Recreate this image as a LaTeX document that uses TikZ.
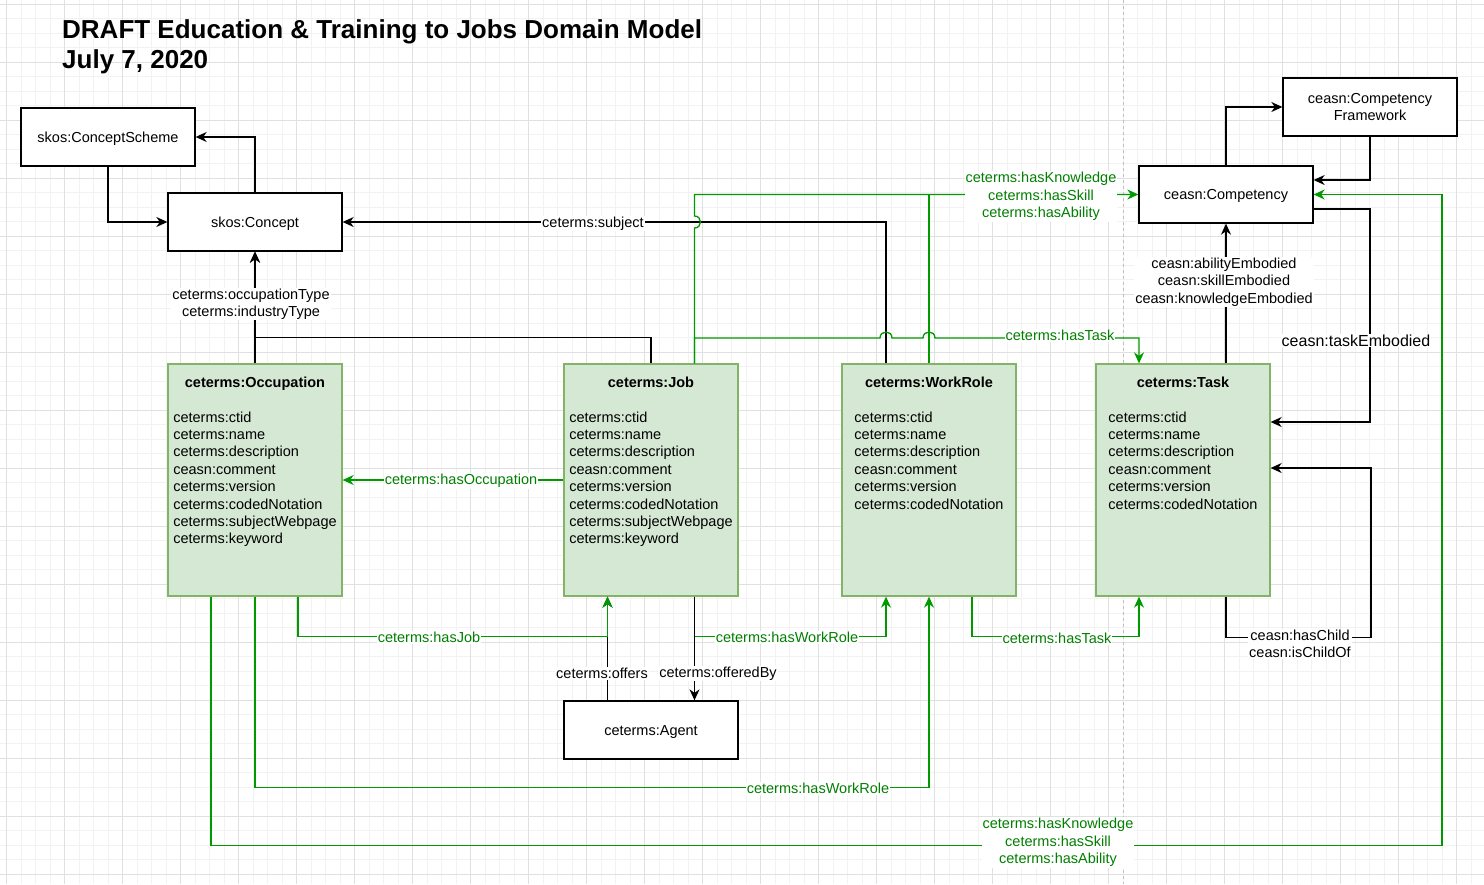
\documentclass[tikz,border=0pt]{standalone}
\usepackage{fontspec}
\setmainfont{Liberation Sans}
\usetikzlibrary{arrows.meta,calc}
\definecolor{gline}{HTML}{009900}
\definecolor{gtext}{HTML}{007F00}
\definecolor{gfill}{HTML}{D5E8D4}
\definecolor{gdraw}{HTML}{82B366}
\definecolor{gridminor}{HTML}{F2F2F2}
\definecolor{gridmajor}{HTML}{E0E0E0}
\definecolor{pagebreak}{HTML}{C0C0C0}
\begin{document}
\begin{tikzpicture}[x=1pt,y=-1pt,
  lbl/.style={font=\fontsize{14.5}{17.4}\selectfont, align=center, fill=white, inner sep=1pt, yshift=-1.5pt},
  glbl/.style={lbl, text=gtext},
  wbox/.style={draw=black, line width=1.3pt, fill=white, minimum width=174pt, minimum height=58pt, inner sep=0pt, font=\fontsize{14.5}{17.4}\selectfont, align=center},
  onebox/.style={wbox, text height=11pt, text depth=1pt},
  cbox/.style={draw=gdraw, line width=1.3pt, fill=gfill, minimum width=174pt, minimum height=232pt, inner sep=0pt},
  ctitle/.style={font=\fontsize{14.5}{17.4}\selectfont\bfseries, inner sep=0pt, text height=11pt, text depth=3pt},
  cattr/.style={font=\fontsize{14.5}{17.4}\selectfont, align=left, anchor=north, inner sep=0pt},
  blk/.style={draw=black, line width=1.3pt},
  grn/.style={draw=gline, line width=1.3pt},
  arr/.style={-{Stealth[length=11pt,width=10pt,inset=3.5pt]}},
  minorline/.style={draw=gridminor, line width=0.8pt},
  majorline/.style={draw=gridmajor, line width=1pt},
]
\useasboundingbox (0,0) rectangle (1484,884);
\fill[white] (0,0) rectangle (1484,884);
% grid
\foreach \i in {0,...,102} { \draw[minorline] ({6.5+14.5*\i},0) -- ({6.5+14.5*\i},884); }
\foreach \j in {0,...,60} { \draw[minorline] (0,{4.3+14.5*\j}) -- (1484,{4.3+14.5*\j}); }
\foreach \i in {0,...,25} { \draw[majorline] ({6.5+58*\i},0) -- ({6.5+58*\i},884); }
\foreach \j in {0,...,15} { \draw[majorline] (0,{4.3+58*\j}) -- (1484,{4.3+58*\j}); }
\draw[pagebreak, line width=0.8pt, dash pattern=on 3pt off 3pt] (1123,0) -- (1123,884);

% title
\node[anchor=north west, align=left, inner sep=0pt, font=\fontsize{26}{29.6}\selectfont\bfseries] (title) at (62,19.5) {DRAFT Education \& Training to Jobs Domain Model\\July 7, 2020};

% white boxes
\node[onebox] (scheme) at (108,137) {skos:ConceptScheme};
\node[onebox] (concept) at (255,222) {skos:Concept};
\node[onebox, minimum height=57pt] (comp) at (1226,194.5) {ceasn:Competency};
\node[wbox] (frame) at (1370,107) {ceasn:Competency\\Framework};
\node[onebox] (agent) at (651,730) {ceterms:Agent};

% class boxes
\node[cbox] (occ) at (255,480) {};
\node[ctitle] (occT) at ($(occ.north)+(0,20.5)$) {ceterms:Occupation};
\node[cattr] (occA) at ($(occ.north)+(0,48)$) {ceterms:ctid\\ceterms:name\\ceterms:description\\ceasn:comment\\ceterms:version\\ceterms:codedNotation\\ceterms:subjectWebpage\\ceterms:keyword};

\node[cbox] (job) at (651,480) {};
\node[ctitle] (jobT) at ($(job.north)+(0,20.5)$) {ceterms:Job};
\node[cattr] (jobA) at ($(job.north)+(0,48)$) {ceterms:ctid\\ceterms:name\\ceterms:description\\ceasn:comment\\ceterms:version\\ceterms:codedNotation\\ceterms:subjectWebpage\\ceterms:keyword};

\node[cbox] (wr) at (929,480) {};
\node[ctitle] (wrT) at ($(wr.north)+(0,20.5)$) {ceterms:WorkRole};
\node[cattr] (wrA) at ($(wr.north)+(0,48)$) {ceterms:ctid\\ceterms:name\\ceterms:description\\ceasn:comment\\ceterms:version\\ceterms:codedNotation};

\node[cbox] (task) at (1183,480) {};
\node[ctitle] (taskT) at ($(task.north)+(0,20.5)$) {ceterms:Task};
\node[cattr] (taskA) at ($(task.north)+(0,48)$) {ceterms:ctid\\ceterms:name\\ceterms:description\\ceasn:comment\\ceterms:version\\ceterms:codedNotation};

% skos connectors
\draw[blk,arr] (concept.north) |- (scheme.east);
\draw[blk,arr] (scheme.south) |- (concept.west);
\draw[blk,arr] (occ.north) -- (concept.south);
\draw[blk,arr] (job.north) -- ++(0,-26) -| (concept.south);
\draw[blk,arr] ($(wr.north)+(-43,0)$) |- (concept.east);

% green Job/WorkRole -> Competency (hop over subject line)
\draw[grn,arr] ($(job.north)+(43.5,0)$) -- (694.5,228) .. controls (702.5,228) and (702.5,216) .. (694.5,216) |- (comp.west);
\draw[grn] (wr.north) -- (wr.north |- comp.west);

% green hasTask (top) with hops
\draw[grn,arr] ($(job.north)+(43.5,0)$) -- (694.5,338) -- (880,338) .. controls (880,330) and (892,330) .. (892,338) -- (923,338) .. controls (923,330) and (935,330) .. (935,338) -| ($(task.north)+(-44,0)$);

% competency relations
\draw[blk,arr] ($(task.north)+(43,0)$) -- (comp.south);
\draw[blk,arr] (comp.north) |- (frame.west);
\draw[blk,arr] (frame.south) |- ($(comp.east)+(0,-14.5)$);
\draw[blk,arr] ($(comp.east)+(0,14.5)$) -| (1370,300) |- ($(task.east)+(0,-58)$);
\draw[blk,arr] ($(task.south)+(43,0)$) -- ++(0,41) -| (1371,500) |- ($(task.east)+(0,-12)$);

% occupation / job
\draw[grn,arr] (job.west) -- (occ.east);
\draw[blk,arr] ($(agent.north)+(-43.5,0)$) -- ($(job.south)+(-43.5,0)$);
\draw[grn,arr] ($(occ.south)+(43,0)$) -- ++(0,40) -| ($(job.south)+(-43.5,0)$);
\draw[grn,arr] ($(job.south)+(43.5,0)$) -- ++(0,40) -| ($(wr.south)+(-43,0)$);
\draw[blk,arr] ($(job.south)+(43.5,0)$) -- ($(agent.north)+(43.5,0)$);
\draw[grn,arr] ($(wr.south)+(43,0)$) -- ++(0,40) -| ($(task.south)+(-44,0)$);
\draw[grn,arr] (occ.south) -- ++(0,191) -| (wr.south);
\draw[grn,arr] ($(occ.south)+(-44,0)$) -- ++(0,249) -| (1442,400) |- (comp.east);

% labels
\node[lbl] (l1) at (251,302.5) {ceterms:occupationType\\ceterms:industryType};
\node[lbl] (l2) at (593,222) {ceterms:subject};
\node[glbl] (l3) at (1041,195) {ceterms:hasKnowledge\\ceterms:hasSkill\\ceterms:hasAbility};
\node[glbl] (l4) at (1060,334) {ceterms:hasTask};
\node[lbl] (l5) at (1224,280.5) {ceasn:abilityEmbodied\\ceasn:skillEmbodied\\ceasn:knowledgeEmbodied};
\node[lbl, font=\fontsize{16}{19}\selectfont] (l6) at (1356,339) {ceasn:taskEmbodied};
\node[glbl] (l7) at (461,479.5) {ceterms:hasOccupation};
\node[glbl] (l8) at (429,636) {ceterms:hasJob};
\node[lbl] (l9) at (602,672) {ceterms:offers};
\node[lbl] (l10) at (718,672) {ceterms:offeredBy};
\node[glbl] (l11) at (787,636) {ceterms:hasWorkRole};
\node[glbl] (l12) at (1057,637) {ceterms:hasTask};
\node[lbl] (l13) at (1300,642.5) {ceasn:hasChild\\ceasn:isChildOf};
\node[glbl] (l14) at (818,787) {ceterms:hasWorkRole};
\node[glbl] (l15) at (1058,841) {ceterms:hasKnowledge\\ceterms:hasSkill\\ceterms:hasAbility};
\end{tikzpicture}
\end{document}
